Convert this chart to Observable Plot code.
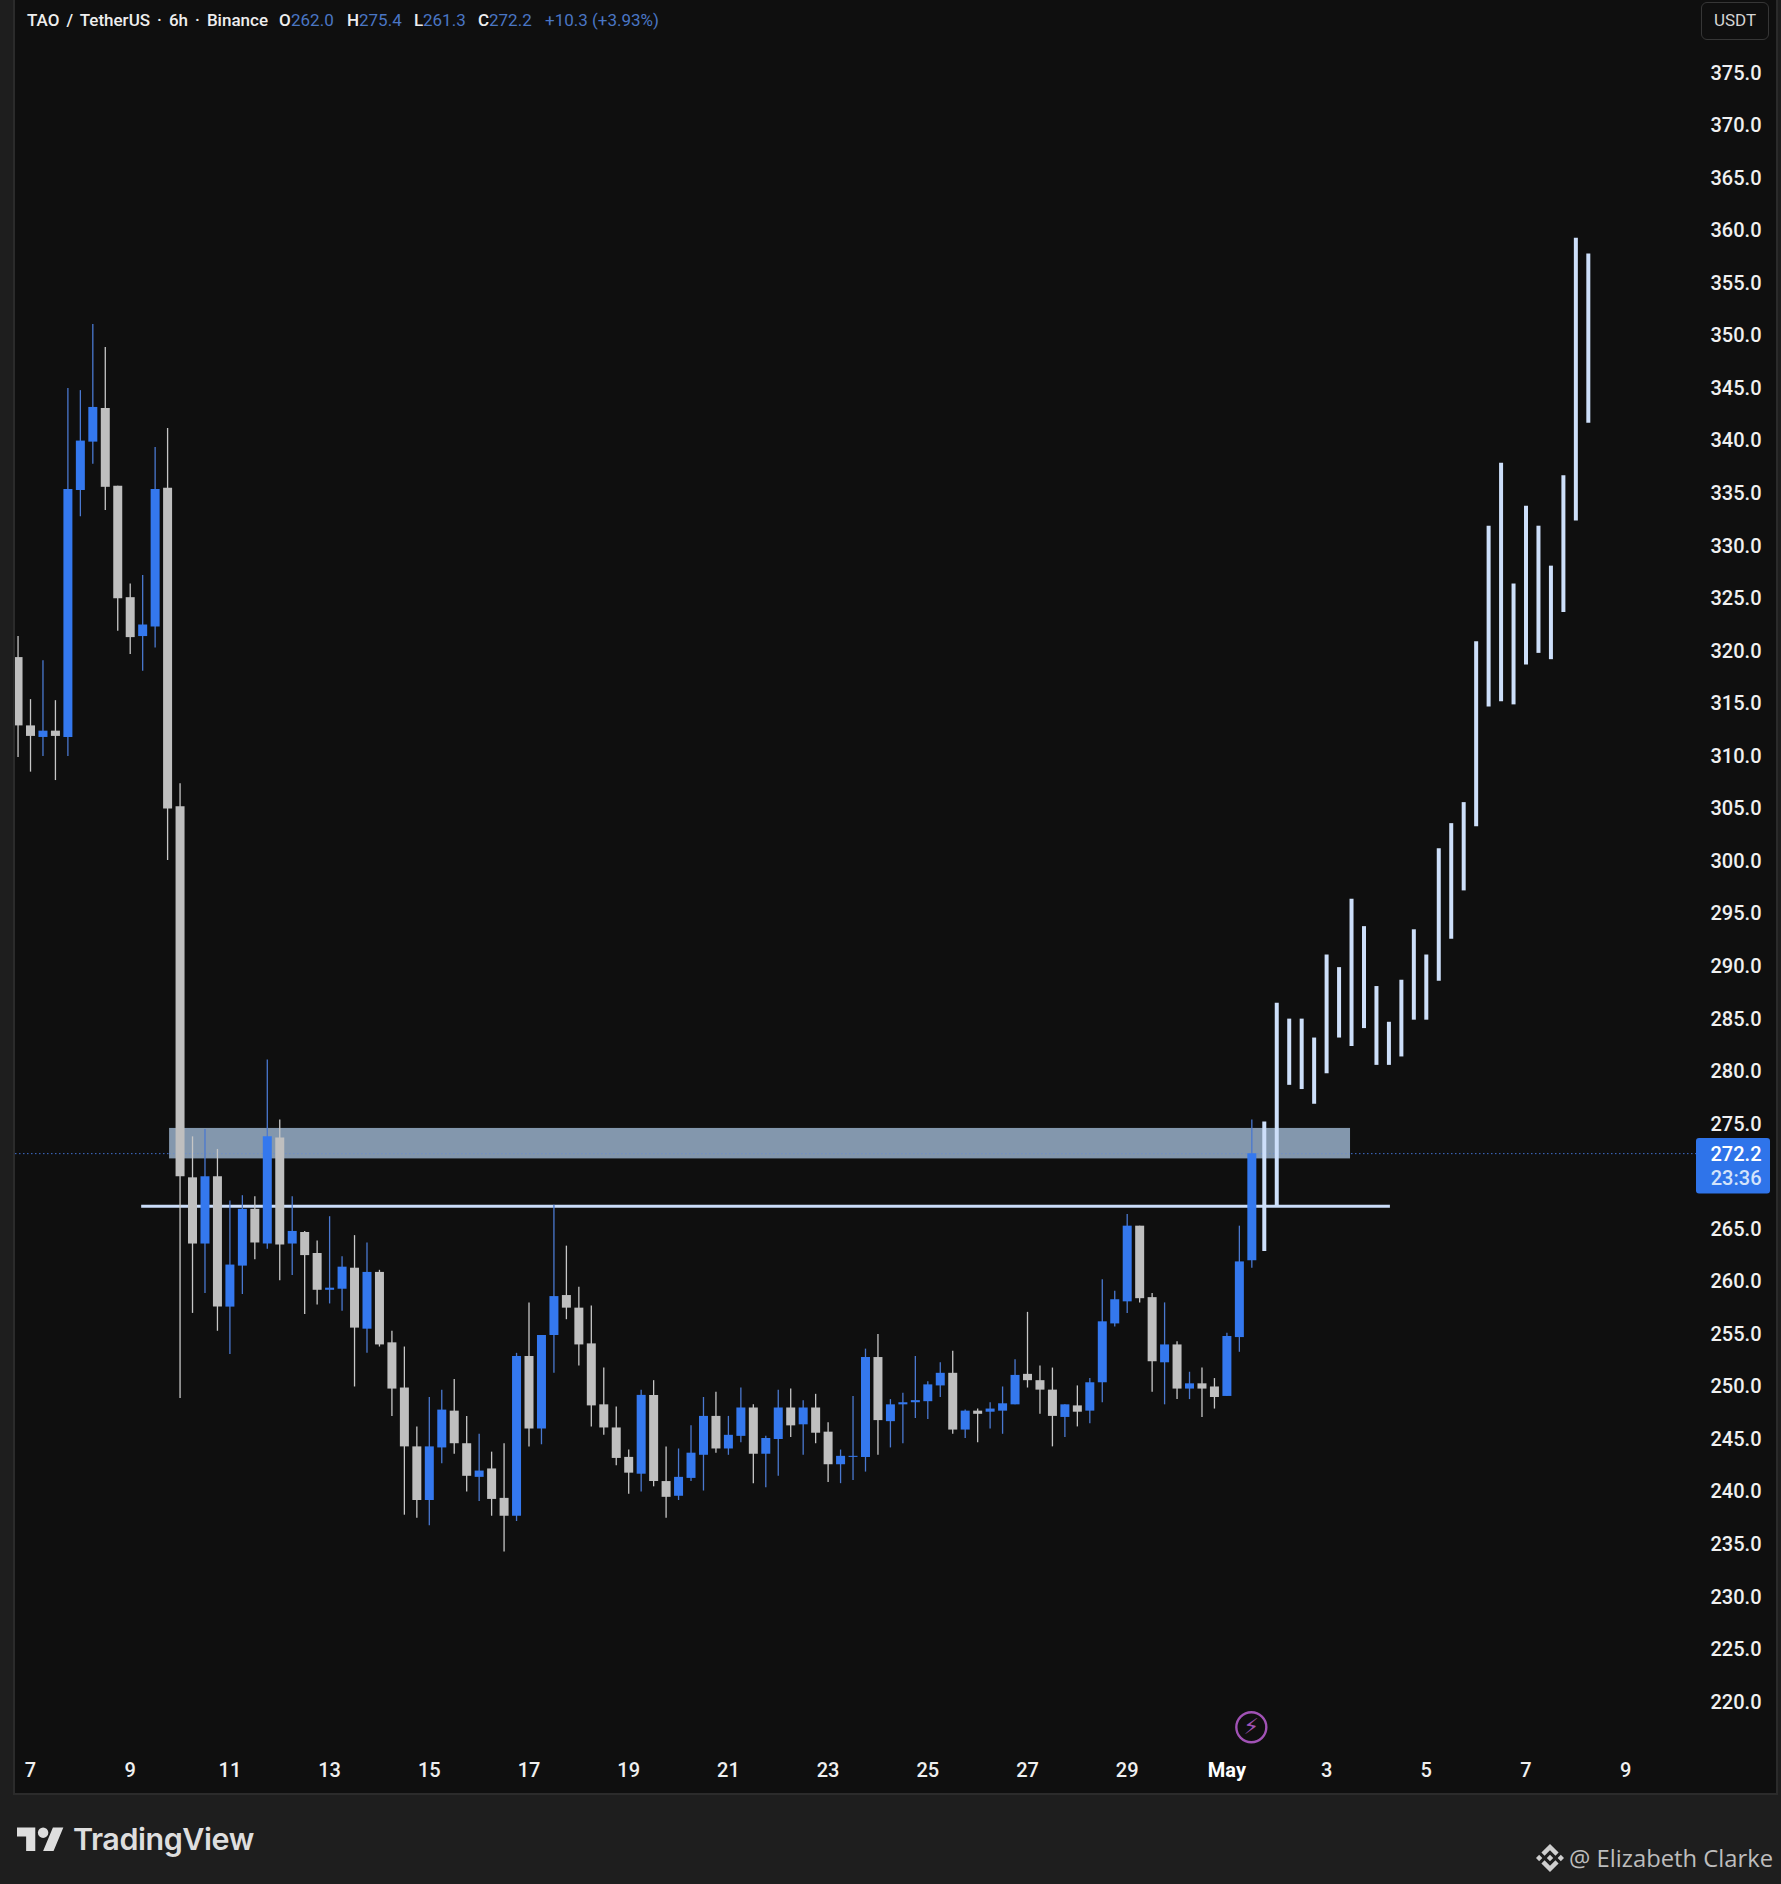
<!DOCTYPE html>
<html>
<head>
<meta charset="utf-8">
<script src="https://cdn.jsdelivr.net/npm/d3@7"></script>
<script src="https://cdn.jsdelivr.net/npm/@observablehq/plot@0.6"></script>
<style>
  html, body { margin: 0; padding: 0; background: #1e1e1e; }
  #page { position: relative; width: 1781px; height: 1884px; background: #1e1e1e; overflow: hidden; font-family: Roboto, sans-serif; }
  #panel { position: absolute; left: 13px; top: 0; width: 1761px; height: 1793px; border-left: 2px solid #2b2b2b; border-bottom: 2px solid #2b2b2b; border-right: 2px solid #2b2b2b; background: #0f0f0f; }
  #panel svg { display: block; }
  .legend { position: absolute; top: 9px; font-size: 17px; line-height: 22px; font-weight: 500; white-space: nowrap; color: #eeeeee; }
  .legend.title { word-spacing: 2.8px; }
  .legend.val { color: #4a76c4; font-weight: 400; }
  #usdt { position: absolute; left: 1701px; top: 2px; width: 66px; height: 36px; border: 1.5px solid #363636; border-radius: 6px; color: #d4d4d4; font-size: 17px; text-align: center; line-height: 34px; }
  #tv { position: absolute; left: 73px; top: 1819px; font-family: Inter, sans-serif; font-weight: 600; font-size: 30.5px; letter-spacing: -0.45px; line-height: 40px; color: #dedede; }
  #tvlogo { position: absolute; left: 17px; top: 1822px; }
  #bnb { position: absolute; left: 1536px; top: 1844px; }
  #author { position: absolute; left: 1569px; top: 1841px; font-family: "Open Sans", sans-serif; font-size: 23.8px; line-height: 34px; color: #bdbdbd; white-space: nowrap; }
</style>
</head>
<body>
<div id="page">
  <div id="panel"></div>
  <div id="usdt">USDT</div>
  <svg id="tvlogo" width="47" height="37" viewBox="0 0 36 28"><path fill="#dedede" d="M14 22H7V11H0V4h14v18zM28 22h-8l7.5-18h8L28 22z"/><circle fill="#dedede" cx="20" cy="8" r="4"/></svg>
  <div id="tv">TradingView</div>
  <svg id="bnb" width="28" height="28" viewBox="0 0 126.61 126.61"><g fill="#cfcfcf"><path d="M38.73 53.2l24.59-24.58 24.6 24.6 14.3-14.31L63.32 0 24.42 38.9l14.31 14.3z"/><path d="M0 63.31l14.3-14.31 14.31 14.31L14.3 77.61z"/><path d="M38.73 73.41l24.59 24.59 24.6-24.6 14.31 14.29-38.9 38.91-38.91-38.88v-.03l14.31-14.28z"/><path d="M98 63.31l14.3-14.31 14.31 14.31-14.31 14.3z"/><path d="M77.83 63.3L63.32 48.78 52.59 59.51l-1.24 1.23-2.54 2.54 14.51 14.5 14.51-14.47z"/></g></svg>
  <div id="author">@ Elizabeth Clarke</div>
</div>
<script>
// ---- candle values (6h bars) ----
const open = [319.4,312.9,311.8,312.4,311.8,335.3,339.9,343.1,335.7,325.1,
321.4,322.3,335.5,305.2,269.9,263.6,270.0,257.6,261.5,266.9,
263.6,273.7,263.6,264.7,262.7,259.2,259.3,261.3,255.5,260.9,
254.2,249.9,244.3,239.2,244.2,247.7,244.6,241.4,242.2,239.4,
237.7,252.9,246.0,254.9,258.7,257.5,254.1,248.3,246.1,243.3,
241.7,249.2,241.0,239.6,241.3,243.5,247.2,244.1,245.3,248.0,
243.6,245.0,248.0,246.4,248.0,245.7,242.6,243.3,243.3,252.8,
246.7,248.3,248.5,248.6,250.1,251.3,245.9,247.7,247.6,247.7,
248.3,251.2,250.6,249.7,247.1,248.2,247.7,250.4,256.0,258.1,
265.3,258.5,252.3,254.0,249.8,250.3,250.0,249.1,254.7,262.0];
const close = [312.9,311.9,312.4,311.9,335.4,340.0,343.2,335.6,325.0,321.3,
322.5,335.4,305.0,270.0,263.6,270.0,257.6,261.6,266.9,263.7,
273.8,263.5,264.8,262.5,259.2,259.4,261.4,255.6,260.9,254.0,
249.8,244.3,239.2,244.3,247.8,244.6,241.5,242.0,239.3,237.7,
252.9,246.0,254.9,258.6,257.5,254.0,248.2,246.1,243.2,241.8,
249.2,241.0,239.5,241.4,243.7,247.2,244.1,245.4,248.0,243.6,
245.1,248.0,246.3,248.0,245.6,242.6,243.4,243.4,252.8,246.8,
248.3,248.5,248.7,250.2,251.3,245.9,247.7,247.4,247.9,248.4,
251.1,250.6,249.7,247.2,248.3,247.6,250.4,256.2,258.3,265.3,
258.4,252.4,254.0,249.8,250.3,249.8,249.0,254.8,261.9,272.2];
const high = [321.4,315.4,319.1,315.3,345.0,344.8,351.1,348.9,335.7,326.4,
327.2,339.4,341.2,307.4,273.8,274.5,272.6,267.7,268.2,268.1,
281.1,275.4,268.1,264.8,263.9,266.2,262.4,264.4,263.7,261.1,
255.3,253.8,246.2,249.0,249.7,250.7,247.2,245.5,243.8,244.6,
253.2,258.0,254.9,267.3,263.4,259.5,257.7,251.8,248.1,244.0,
249.7,250.6,244.3,244.1,246.3,249.0,249.5,247.2,249.9,248.3,
245.3,249.7,249.8,248.7,249.3,246.6,244.0,249.1,253.6,255.0,
248.8,249.4,252.9,250.5,252.3,253.4,247.8,247.9,248.5,250.0,
252.6,257.1,252.0,251.8,248.3,250.1,250.8,260.2,259.1,266.4,
265.3,258.9,258.0,254.3,251.4,251.8,250.8,255.1,265.3,275.4];
const low = [309.9,308.5,310.0,307.7,310.0,332.8,337.8,333.4,321.9,319.7,
318.1,320.3,300.1,248.9,257.0,258.9,255.3,253.1,258.8,262.1,
263.1,260.1,260.6,256.9,257.8,257.9,257.2,250.0,253.2,253.8,
247.2,237.8,237.5,236.8,242.7,243.6,240.0,239.1,237.7,234.3,
237.2,244.3,244.5,251.3,256.4,252.0,246.2,245.4,242.5,239.8,
240.0,240.5,237.5,239.2,241.0,240.1,243.7,243.5,244.7,240.8,
240.4,241.5,245.2,243.5,244.6,240.9,240.8,241.1,241.9,243.5,
244.2,244.6,247.0,246.9,249.0,245.5,245.1,244.7,246.0,245.5,
248.3,249.9,247.4,244.3,245.2,246.2,246.5,248.5,255.7,257.0,
258.0,249.5,248.3,248.8,248.8,247.1,247.9,249.1,253.3,261.3];

// ---- projected bars (drawn as light vertical bars after the last candle) ----
const projHigh = [275.2,286.5,285.0,285.0,283.2,291.1,289.9,296.4,293.8,288.1,284.7,288.7,293.5,291.1,301.2,303.6,305.6,320.9,331.9,337.9,326.4,333.8,331.9,328.1,336.7,359.3,357.8];
const projLow  = [262.9,267.2,278.7,278.3,276.9,279.8,283.2,282.4,284.1,280.6,280.6,281.4,284.9,284.9,288.6,292.6,297.2,303.3,314.7,315.2,314.9,318.7,319.8,319.2,323.7,332.4,341.7];

// ---- axes ----
const yTicks = [375,370,365,360,355,350,345,340,335,330,325,320,315,310,305,300,295,290,285,280,275,265,260,255,250,245,240,235,230,225,220];
const xTickDays = [7,9,11,13,15,17,19,21,23,25,27,29,33,35,37,39];
const xTickLabels = ["7","9","11","13","15","17","19","21","23","25","27","29","3","5","7","9"];
const mayDay = [31];
const mayLabel = "May";

// ---- annotations ----
const lastPrice = 272.2;
const countdown = "23:36";
const zone = {top: 274.6, bottom: 271.7, from: 9.79, to: 33.48};
const level = {price: 267.2, from: 9.23, to: 34.28};
const tag = {top: 273.64, bottom: 268.35, from: 40.42, to: 41.905};
const bolt = {day: 31.49, price: 217.63};

// ---- chart colours ----
const BLUE = "#3478ee", BLUE_WICK = "#4a78cf", GRAY = "#bfbfbf", GRAY_WICK = "#c6c6c6", PROJ = "#cddffa", LEVEL = "#cbddf9", ZONE = "#8397ad";

const firstDay = 6.75, barsPerDay = 4;
const dayOf = i => firstDay + i / barsPerDay;
const bars = open.map((o, i) => ({day: dayOf(i), open: o, close: close[i], high: high[i], low: low[i], up: close[i] >= o}));
const proj = projHigh.map((h, i) => ({day: dayOf(open.length + i), high: h, low: projLow[i]}));
const upBars = bars.filter(d => d.up), downBars = bars.filter(d => !d.up);

const axisFont = {fontSize: 20, fontWeight: 500, fill: "#f0f0f0"};

const chart = Plot.plot({
  width: 1761, height: 1793,
  marginTop: 0, marginRight: 0, marginBottom: 0, marginLeft: 0,
  x: {domain: [6.699, 42.025]},
  y: {domain: [211.32, 381.92]},
  style: {background: "transparent", fontFamily: "Roboto, sans-serif", color: "#f0f0f0", overflow: "visible"},
  marks: [
    Plot.ruleY([lastPrice], {x1: 6.699, x2: tag.from, stroke: "#3f6fd0", strokeWidth: 1, strokeDasharray: "1.5,2.5"}),
    Plot.rect([zone], {x1: "from", x2: "to", y1: "bottom", y2: "top", fill: ZONE}),
    Plot.ruleY([lastPrice], {x1: zone.from, x2: zone.to, stroke: "#6f8fc8", strokeWidth: 1, strokeDasharray: "1.5,2.5"}),
    Plot.ruleY([level.price], {x1: level.from, x2: level.to, stroke: LEVEL, strokeWidth: 3}),
    Plot.ruleX(downBars, {x: "day", y1: "low", y2: "high", stroke: GRAY_WICK, strokeWidth: 1.3, clip: true}),
    Plot.ruleX(upBars, {x: "day", y1: "low", y2: "high", stroke: BLUE_WICK, strokeWidth: 1.3, clip: true}),
    Plot.ruleX(downBars, {x: "day", y1: "open", y2: "close", stroke: GRAY, strokeWidth: 9, clip: true}),
    Plot.ruleX(upBars, {x: "day", y1: "open", y2: "close", stroke: BLUE, strokeWidth: 9, clip: true}),
    Plot.ruleX(proj, {x: "day", y1: "low", y2: "high", stroke: PROJ, strokeWidth: 4}),
    Plot.axisY(yTicks, {anchor: "right", tickSize: 0, tickPadding: 0, textAnchor: "end", dx: -15, tickFormat: d => d.toFixed(1), label: null, ...axisFont}),
    Plot.axisX(xTickDays, {anchor: "bottom", tickSize: 0, tickPadding: 0, dy: -31, label: null, tickFormat: d => xTickLabels[xTickDays.indexOf(d)], ...axisFont}),
    Plot.axisX(mayDay, {anchor: "bottom", tickSize: 0, tickPadding: 0, dy: -31, label: null, tickFormat: () => mayLabel, fontSize: 20, fontWeight: 700, fill: "#ffffff"}),
    Plot.rect([tag], {x1: "from", x2: "to", y1: "bottom", y2: "top", fill: "#2f74ea", rx: 3}),
    Plot.text([lastPrice], {frameAnchor: "right", y: d => d, dx: -15, dy: 1, text: d => d.toFixed(1), textAnchor: "end", fontSize: 20, fontWeight: 500, fill: "#ffffff"}),
    Plot.text([countdown], {frameAnchor: "right", y: () => lastPrice, dx: -15, dy: 25, text: d => d, textAnchor: "end", fontSize: 20, fontWeight: 500, fill: "#d3e3fb"}),
    Plot.dot([bolt], {x: "day", y: "price", r: 15, stroke: "#a152b5", strokeWidth: 2.4, fill: "none"}),
    Plot.text([bolt], {x: "day", y: "price", text: () => "⚡", fontFamily: "DejaVu Sans", fontSize: 22, fill: "#a152b5"})
  ]
});
document.getElementById("panel").appendChild(chart);

// ---- symbol legend ----
const legendItems = [
  ["TAO / TetherUS · 6h · Binance", 27, "title"],
  ["O", 279, ""], ["262.0", 291, "val"],
  ["H", 347, ""], ["275.4", 359, "val"],
  ["L", 414, ""], ["261.3", 423, "val"],
  ["C", 478, ""], ["272.2", 489, "val"],
  ["+10.3 (+3.93%)", 545, "val"]
];
const page = document.getElementById("page");
for (const [t, left, kind] of legendItems) {
  const s = document.createElement("div");
  s.className = "legend " + kind;
  s.style.left = left + "px";
  s.textContent = t;
  page.appendChild(s);
}
</script>
</body>
</html>
